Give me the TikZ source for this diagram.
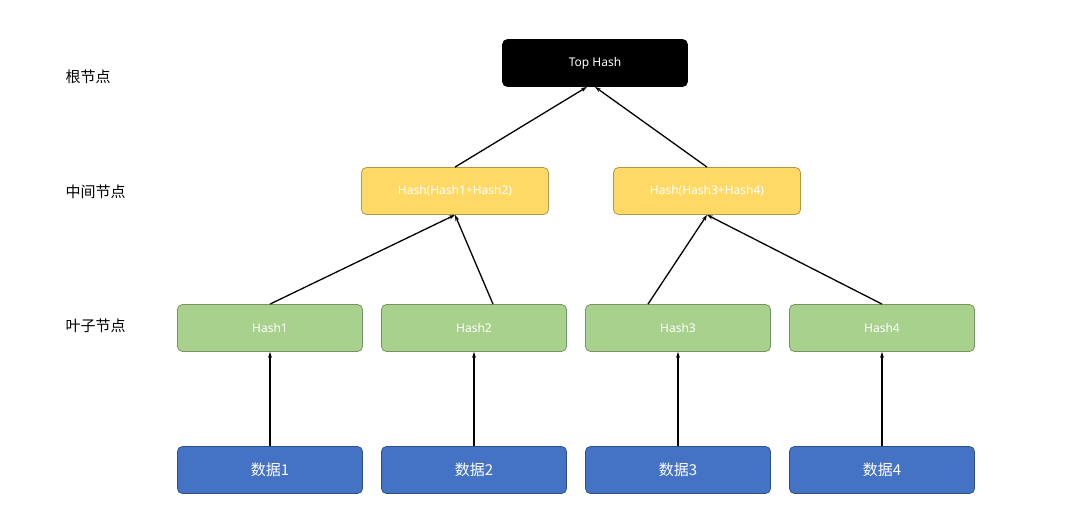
\documentclass[tikz,border=0pt]{standalone}
\usepackage{fontspec}
\usetikzlibrary{arrows.meta}
\setmainfont{Noto Sans}
\newfontfamily\cjk{Noto Sans CJK SC}
\begin{document}
\begin{tikzpicture}[x=1pt,y=-1pt,
 box/.style={rounded corners=5pt,minimum width=185pt,minimum height=47pt,draw=#1!70!black,line width=0.8pt,text=white,font=\fontsize{12}{14}\selectfont},
 arr/.style={-{Stealth[length=6pt,width=4pt]},line width=1.3pt}]
\useasboundingbox (0,0) rectangle (1065,528);
\definecolor{ye}{HTML}{FFD966}\definecolor{gr}{HTML}{A9D18E}\definecolor{bl}{HTML}{4472C4}
\node[box=black,fill=black,minimum width=185pt] (top) at (595,63) {Top Hash};
\node[box=ye,fill=ye,minimum width=187pt] (m1) at (455,191) {Hash(Hash1+Hash2)};
\node[box=ye,fill=ye,minimum width=187pt] (m2) at (707,191) {Hash(Hash3+Hash4)};
\foreach \i/\x in {1/270,2/474,3/678,4/882}{
 \node[box=gr,fill=gr] (h\i) at (\x,328) {Hash\i};
 \node[box=bl,fill=bl,font=\cjk\fontsize{15}{18}\selectfont] (d\i) at (\x,470) {数据\i};
 \draw[arr] (d\i.north) -- (h\i.south);
}
\draw[arr] (h1.north) -- (m1.south);
\draw[arr] (h2.north -| 493,0) -- (m1.south);
\draw[arr] (h3.north -| 648,0) -- (m2.south);
\draw[arr] (h4.north) -- (m2.south);
\draw[arr] (m1.north) -- ([xshift=-8pt]top.south);
\draw[arr] (m2.north) -- ([xshift=0pt]top.south);
\node[font=\cjk\fontsize{15}{18}\selectfont,anchor=west] (l1) at (62,77) {根节点};
\node[font=\cjk\fontsize{15}{18}\selectfont,anchor=west] (l2) at (62,192) {中间节点};
\node[font=\cjk\fontsize{15}{18}\selectfont,anchor=west] (l3) at (62,326) {叶子节点};
\end{tikzpicture}
\end{document}
